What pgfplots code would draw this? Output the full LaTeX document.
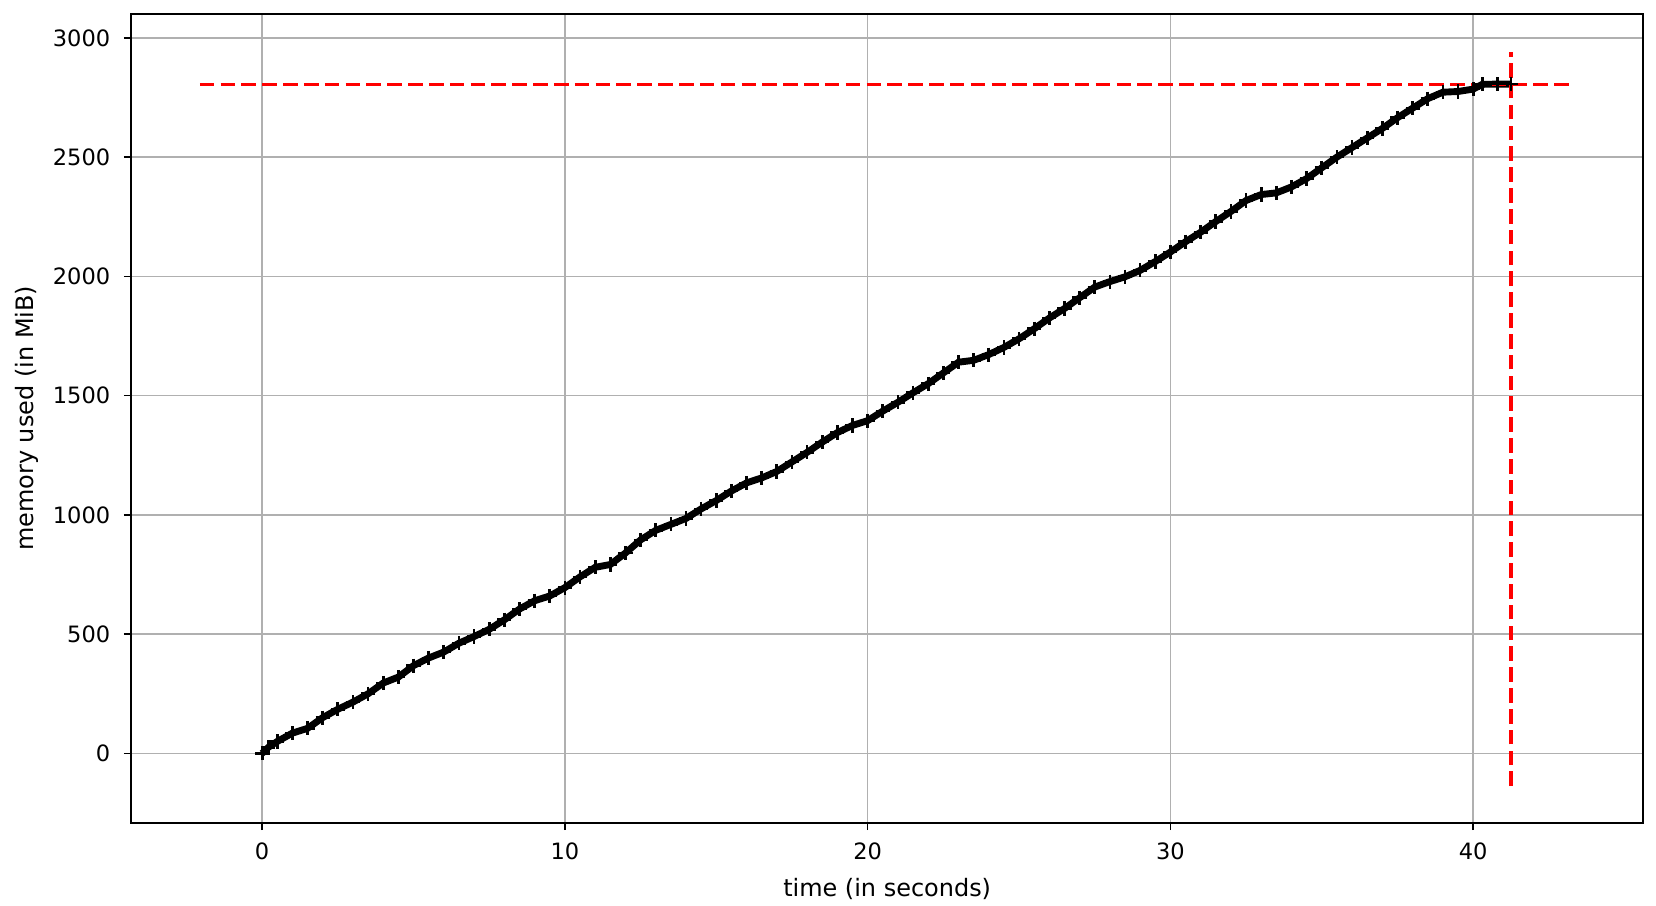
\documentclass[border=0pt]{standalone}
\usepackage{pgfplots}
\pgfplotsset{compat=1.18}
\usepackage{fontspec}
\setmainfont{DejaVu Sans}

\definecolor{gridgray}{HTML}{B0B0B0}

\begin{document}
\begin{tikzpicture}
\begin{axis}[
    scale only axis,
    width=725.8pt, height=388.3pt,
    xmin=-4.33, xmax=45.62,
    ymin=-291, ymax=3101,
    xtick={0,10,20,30,40},
    ytick={0,500,1000,1500,2000,2500,3000},
    grid=major,
    major grid style={gridgray, line width=0.8pt},
    axis line style={line width=0.8pt},
    tick style={black, line width=0.8pt},
    tick align=outside,
    major tick length=3.5pt,
    xtick pos=bottom, ytick pos=left,
    /pgf/number format/assume math mode=true,
    /pgf/number format/set thousands separator={},
    xlabel={time (in seconds)},
    ylabel={memory used (in MiB)},
    tick label style={font=\fontsize{10.8pt}{13pt}\selectfont},
    xticklabel style={yshift=-2.5pt},
    yticklabel style={xshift=-3pt},
    label style={font=\fontsize{11.5pt}{14pt}\selectfont},
    xlabel style={yshift=-2pt},
    ylabel style={yshift=0pt},
]
\addplot[black, line width=3.3pt, mark=+, mark size=3.4pt,
         mark options={line width=1.3pt}] coordinates {
(0.0,0) (0.2,25) (0.5,50) (1.0,85) (1.5,105) (2.0,150) (2.5,185)
(3.0,215) (3.5,250) (4.0,295) (4.5,320) (5.0,368) (5.5,400)
(6.0,425) (6.5,462) (7.0,490) (7.5,520) (8.0,560) (8.5,605)
(9.0,640) (9.5,660) (10.0,695) (10.5,740) (11.0,780) (11.5,792)
(12.0,840) (12.5,895) (13.0,935) (13.5,960) (14.0,985) (14.5,1025)
(15.0,1060) (15.5,1100) (16.0,1134) (16.5,1155) (17.0,1182)
(17.5,1222) (18.0,1262) (18.5,1305) (19.0,1345) (19.5,1375)
(20.0,1395) (20.5,1435) (21.0,1472) (21.5,1512) (22.0,1550)
(22.5,1595) (23.0,1640) (23.5,1648) (24.0,1672) (24.5,1702)
(25.0,1738) (25.5,1780) (26.0,1825) (26.5,1865) (27.0,1910)
(27.5,1955) (28.0,1978) (28.5,1998) (29.0,2025) (29.5,2062)
(30.0,2102) (30.5,2145) (31.0,2185) (31.5,2230) (32.0,2272)
(32.5,2318) (33.0,2343) (33.5,2350) (34.0,2375) (34.5,2410)
(35.0,2455) (35.5,2500) (36.0,2540) (36.5,2580) (37.0,2620)
(37.5,2665) (38.0,2705) (38.5,2745) (39.0,2772) (39.5,2775)
(40.0,2785) (40.3,2805) (40.8,2806) (41.25,2806)
};
\addplot[red, dashed, line width=1.5pt, dash pattern=on 7pt off 3pt, forget plot]
    coordinates {(-2.06,2806) (43.3,2806)};
\addplot[red, dashed, line width=1.5pt, dash pattern=on 7pt off 3pt, forget plot]
    coordinates {(41.25,-137) (41.25,2942)};
\end{axis}
\pgfresetboundingbox
\path ([xshift=-62.9pt,yshift=-39.6pt]current axis.south west)
    rectangle ([xshift=6.1pt,yshift=6.6pt]current axis.north east);
\end{tikzpicture}
\end{document}
